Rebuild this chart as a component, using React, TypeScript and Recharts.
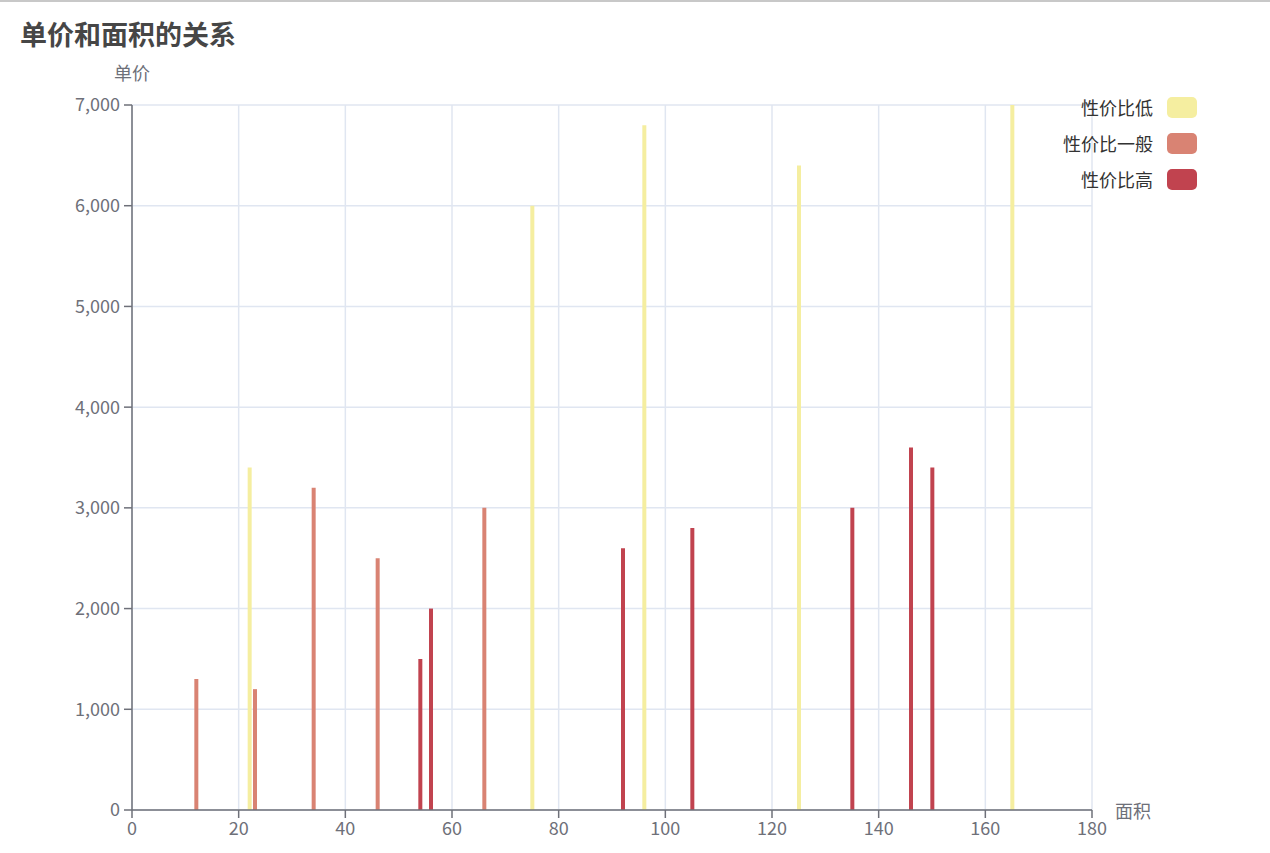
import React from "react";
import { BarChart, Bar, XAxis, YAxis, CartesianGrid } from "recharts";

// [面积, 单价] per group
const lowValue: [number, number][] = [
  [22, 3400], [75, 6000], [96, 6800], [125, 6400], [165, 7000],
];
const midValue: [number, number][] = [
  [12, 1300], [23, 1200], [34, 3200], [46, 2500], [66, 3000],
];
const highValue: [number, number][] = [
  [54, 1500], [56, 2000], [92, 2600], [105, 2800], [135, 3000], [146, 3600], [150, 3400],
];

const seriesNames = ["性价比低", "性价比一般", "性价比高"];
const seriesColors = ["#f5eea0", "#d98373", "#c1434f"];
const xTicks = [0, 20, 40, 60, 80, 100, 120, 140, 160, 180];
const yTicks = [0, 1000, 2000, 3000, 4000, 5000, 6000, 7000];

const rows: { area: number; low?: number; mid?: number; high?: number }[] = [];
lowValue.forEach(([a, v]) => rows.push({ area: a, low: v }));
midValue.forEach(([a, v]) => rows.push({ area: a, mid: v }));
highValue.forEach(([a, v]) => rows.push({ area: a, high: v }));
rows.sort((a, b) => a.area - b.area);

const font = '"Noto Sans CJK SC", "Noto Sans", sans-serif';
const axisColor = "#6e7079";

function LegendBox() {
  return (
    <div style={{ position: "absolute", left: 1000, top: 89, width: 197, fontFamily: font }}>
      {seriesNames.map((name, i) => (
        <div key={name} style={{ display: "flex", alignItems: "center", justifyContent: "flex-end", height: 36 }}>
          <span style={{ fontSize: 18, color: "#333", marginRight: 14 }}>{name}</span>
          <span style={{ width: 30, height: 21, borderRadius: 5, background: seriesColors[i], display: "inline-block" }} />
        </div>
      ))}
    </div>
  );
}

export default function App() {
  const tick = { fontSize: 18, fill: axisColor, fontFamily: font };
  return (
    <div style={{ position: "absolute", left: 0, top: 0, width: 1270, height: 853, background: "#fff", fontFamily: font }}>
      <div style={{ position: "absolute", left: 0, top: 0, width: 1270, height: 2, background: "#c8c8c8" }} />
      <div style={{ position: "absolute", left: 20, top: 14, fontSize: 27, fontWeight: 700, color: "#464646" }}>
        单价和面积的关系
      </div>
      <div style={{ position: "absolute", left: 114, top: 59, fontSize: 18, color: axisColor }}>单价</div>
      <div style={{ position: "absolute", left: 1115, top: 797, fontSize: 18, color: axisColor }}>面积</div>
      <BarChart
        width={1270}
        height={853}
        data={rows}
        margin={{ top: 105, right: 178, bottom: 0, left: 0 }}
        style={{ position: "absolute", left: 0, top: 0 }}
      >
        <CartesianGrid stroke="#e0e6f1" strokeWidth={1.5} />
        <XAxis
          dataKey="area"
          type="number"
          domain={[0, 180]}
          ticks={xTicks}
          interval={0}
          height={43}
          tick={tick}
          tickSize={8}
          tickMargin={4}
          axisLine={{ stroke: axisColor, strokeWidth: 1.5 }}
          tickLine={{ stroke: axisColor, strokeWidth: 1.5 }}
        />
        <YAxis
          type="number"
          domain={[0, 7000]}
          ticks={yTicks}
          interval={0}
          width={132}
          tick={tick}
          tickSize={8}
          tickMargin={4}
          tickFormatter={(v: number) => v.toLocaleString("en-US")}
          axisLine={{ stroke: axisColor, strokeWidth: 1.5 }}
          tickLine={{ stroke: axisColor, strokeWidth: 1.5 }}
        />
        <Bar dataKey="low" name={seriesNames[0]} stackId="s" fill={seriesColors[0]} barSize={4} isAnimationActive={false} />
        <Bar dataKey="mid" name={seriesNames[1]} stackId="s" fill={seriesColors[1]} barSize={4} isAnimationActive={false} />
        <Bar dataKey="high" name={seriesNames[2]} stackId="s" fill={seriesColors[2]} barSize={4} isAnimationActive={false} />
      </BarChart>
      <LegendBox />
    </div>
  );
}
